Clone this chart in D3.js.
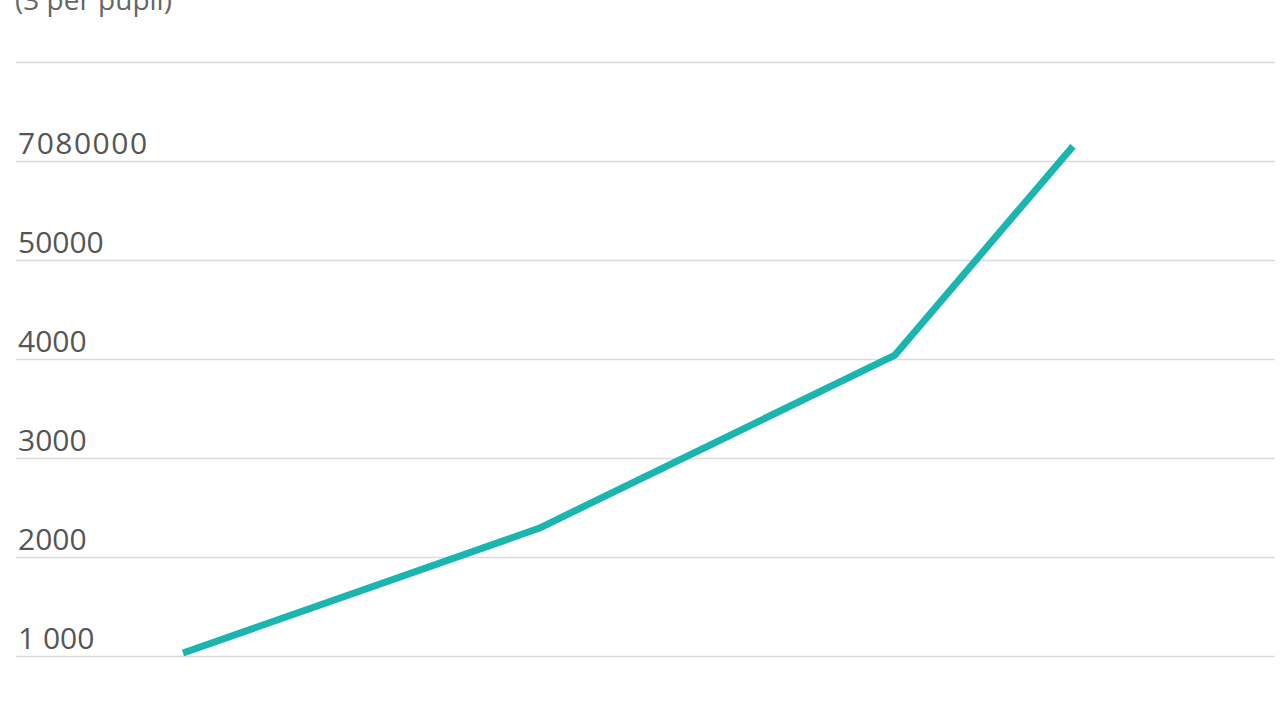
<!DOCTYPE html>
<html>
<head>
<meta charset="utf-8">
<script src="https://cdn.jsdelivr.net/npm/d3@7"></script>
<style>
  html, body { margin: 0; padding: 0; background: #fff; }
  svg { display: block; }
</style>
</head>
<body>
<svg width="1280" height="720"></svg>
<script>
// chart data
var years = [1990, 2000, 2010, 2015];
var spending = [1030, 2290, 4040, 6150];
var tickValues = [1000, 2000, 3000, 4000, 5000, 6000, 7000];
var tickLabels = ["1 000", "2000", "3000", "4000", "50000", "7080000", ""];
var unitLabel = "(3 per pupil)";

var svg = d3.select("svg");
var left = 16, right = 1275;

// scales
var x = d3.scaleLinear().domain([1990, 2015]).range([183, 1073]);
var y = d3.scaleLinear().domain([1000, 7000]).range([656, 62]);

// gridlines + labels
var grid = svg.append("g")
    .attr("transform", "translate(" + left + ",0)")
    .call(d3.axisLeft(y)
        .tickValues(tickValues)
        .tickSize(-(right - left))
        .tickFormat(function(d, i) { return tickLabels[i]; }));
grid.select(".domain").remove();
grid.selectAll(".tick line")
    .attr("stroke", "#dcdcdc")
    .attr("stroke-width", 1.5);
grid.selectAll(".tick text")
    .attr("x", 2)
    .attr("dy", -8)
    .attr("text-anchor", "start")
    .attr("fill", "#555")
    .style("font-family", "'Open Sans', sans-serif")
    .style("font-size", "30px");
// the top label runs wider in the picture
grid.selectAll(".tick text")
    .filter(function(d) { return d === 6000; })
    .style("letter-spacing", "1.5px");

// unit label, cut at the top
svg.append("text")
    .attr("x", 15)
    .attr("y", 10)
    .attr("fill", "#666")
    .style("font-family", "'Open Sans', sans-serif")
    .style("font-size", "28px")
    .text(unitLabel);

// the line
var line = d3.line()
    .x(function(d, i) { return x(years[i]); })
    .y(function(d) { return y(d); });

svg.append("path")
    .datum(spending)
    .attr("d", line)
    .attr("fill", "none")
    .attr("stroke", "#19b5ae")
    .attr("stroke-width", 7)
    .attr("stroke-linejoin", "round");
</script>
</body>
</html>
